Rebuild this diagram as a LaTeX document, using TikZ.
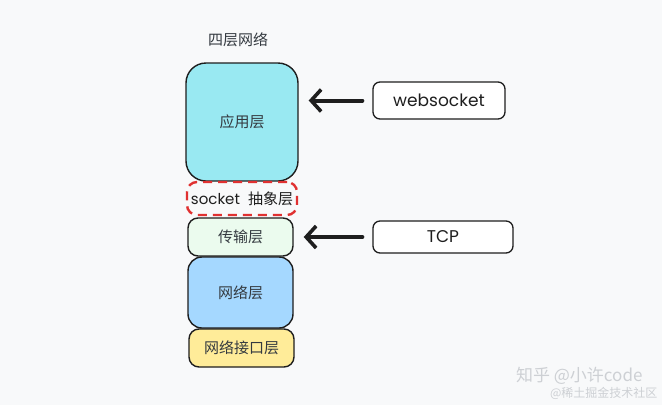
\documentclass[tikz,border=0pt]{standalone}
\usepackage{fontspec}
\setmainfont{Poppins}
\newfontfamily\cjk{Noto Sans CJK SC}
\usetikzlibrary{arrows.meta}
\definecolor{bgc}{RGB}{248,249,250}
\definecolor{ink}{RGB}{30,30,30}
\definecolor{txt}{RGB}{52,58,64}
\definecolor{cyanf}{RGB}{153,233,242}
\definecolor{greenf}{RGB}{235,251,238}
\definecolor{bluef}{RGB}{165,216,255}
\definecolor{yellowf}{RGB}{255,236,153}
\definecolor{redd}{RGB}{224,49,49}
\definecolor{wm}{RGB}{205,208,212}
\tikzset{
  layer/.style={draw=ink, line width=1.4pt, rounded corners=10pt, inner sep=0pt, font=\cjk\fontsize{15}{16}\selectfont, text=txt},
  tagbox/.style={draw=ink, fill=white, line width=1.3pt, rounded corners=7pt, inner sep=0pt, font=\fontsize{17}{20}\selectfont, text=ink},
  bigarrow/.style={draw=ink, line width=4pt, line cap=round, -{Straight Barb[length=10pt,width=22pt,line width=3.6pt]}, shorten >=10pt, shorten <=10pt},
}
\begin{document}
\begin{tikzpicture}[x=1pt,y=-1pt]
\fill[bgc] (0,0) rectangle (662,405);
\useasboundingbox (0,0) rectangle (662,405);
\node[font=\cjk\fontsize{15}{16}\selectfont, text=txt] (title) at (238,40) {四层网络};
\node[layer, fill=cyanf, rounded corners=20pt, minimum width=112pt, minimum height=118pt] (app) at (242,122) {应用层};
\node[draw=redd, dashed, dash pattern=on 9pt off 6pt, line width=2.4pt, rounded corners=10pt, inner sep=0pt, minimum width=110pt, minimum height=33pt, font=\fontsize{15}{16}\selectfont, text=ink] (sock) at (242,198.5) {socket\ \ {\cjk 抽象层}};
\node[layer, fill=greenf, minimum width=105pt, minimum height=38pt] (trans) at (240.5,237) {传输层};
\node[layer, fill=bluef, rounded corners=14pt, minimum width=105pt, minimum height=71pt] (net) at (240.5,292.5) {网络层};
\node[layer, fill=yellowf, minimum width=105pt, minimum height=38pt] (link) at (241.5,348) {网络接口层};
\node[tagbox, minimum width=132pt, minimum height=37pt] (ws) at (439,100.5) {websocket};
\node[tagbox, minimum width=140pt, minimum height=32pt] (tcp) at (443,237) {TCP};
\draw[bigarrow] (ws.west) -- (app.east |- ws.west);
\draw[bigarrow] (tcp.west) -- (trans.east);
\node[font=\cjk\fontsize{17}{18}\selectfont, text=wm, anchor=east] (wm1) at (646,376) {知乎 @小许code};
\node[font=\cjk\fontsize{12}{13}\selectfont, text=wm, anchor=east] (wm2) at (661,393) {@稀土掘金技术社区};
\end{tikzpicture}
\end{document}
